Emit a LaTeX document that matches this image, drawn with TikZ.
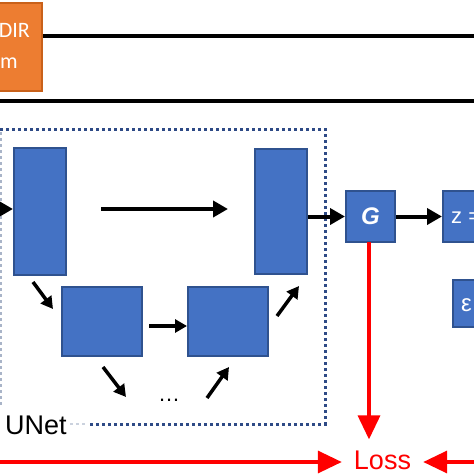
\documentclass[tikz,border=0pt]{standalone}
\usepackage{fontspec}
\setmainfont{Liberation Sans}
\newfontfamily\calib{Carlito}
\usetikzlibrary{arrows.meta}
\definecolor{blk}{HTML}{4472C4}
\definecolor{blkb}{HTML}{2F528F}
\definecolor{orng}{HTML}{ED7D31}
\definecolor{orngb}{HTML}{C9611A}
\definecolor{navy}{HTML}{2E4A86}
\definecolor{dotgray}{HTML}{A9B4C8}
\tikzset{
  block/.style={draw=blkb, fill=blk, line width=2pt, inner sep=0pt},
  barrow/.style={line width=4pt, -{Triangle[length=15pt,width=16pt]}},
  sarrow/.style={line width=3.5pt, -{Triangle[length=12pt,width=13pt]}},
  rarrow/.style={draw=red, line width=3.5pt, -{Triangle[length=24pt,width=22pt]}},
  hline/.style={line width=3.5pt},
  dotbox/.style={draw=navy, line width=3pt, dash pattern=on 3pt off 3pt},
  wtext/.style={text=white, inner sep=0pt},
}
\begin{document}
\begin{tikzpicture}[x=1pt,y=-1pt]
\useasboundingbox (0,0) rectangle (474,474);
\clip (0,0) rectangle (474,474);
% orange box
\node[draw=orngb, fill=orng, line width=2pt, minimum width=80pt, minimum height=88pt, inner sep=0pt] (orange) at (2,47) {};
\node[wtext, anchor=east, font=\calib\fontsize{22}{22}\selectfont] (dirtext) at (30,30) {DIR};
\node[wtext, anchor=east, font=\calib\fontsize{22}{22}\selectfont] (mtext) at (18,63) {m};
% top lines
\coordinate (l1end) at (476,36);
\draw[hline] (orange.east |- l1end) -- (l1end);
\coordinate (l2a) at (-2,101);
\coordinate (l2b) at (476,101);
\draw[hline] (l2a) -- (l2b);
% UNet dotted box
\coordinate (bxtl) at (0,129);
\coordinate (bxtr) at (325,129);
\coordinate (bxbr) at (325,424);
\coordinate (bxbl) at (88,424);
\draw[dotbox] (bxtl) -- (bxtr) -- (bxbr) -- (bxbl);
\coordinate (lft1) at (1,132);
\coordinate (lft2) at (1,405);
\draw[draw=dotgray, line width=2.5pt, dash pattern=on 3pt off 3pt] (lft1) -- (lft2);
\coordinate (bl1) at (70,424);
\draw[draw=dotgray!60, line width=2.5pt, dash pattern=on 3pt off 3pt] (bl1) -- (bxbl);
\node[anchor=west, inner sep=0pt, font=\fontsize{27}{27}\selectfont] (unet) at (5,425) {UNet};
% blocks
\node[block, minimum width=52pt, minimum height=127pt] (b1) at (40,211.5) {};
\node[block, minimum width=52pt, minimum height=125pt] (b4) at (281,211.5) {};
\node[block, minimum width=80pt, minimum height=69pt] (b2) at (102,321.5) {};
\node[block, minimum width=80pt, minimum height=69pt] (b3) at (228,321.5) {};
\node[inner sep=0pt, font=\fontsize{22}{22}\selectfont] (dots) at (169,400) {\dots};
% G and right boxes
\node[block, minimum width=49pt, minimum height=51pt, text=white, font=\bfseries\itshape\fontsize{24}{24}\selectfont] (G) at (370.5,216.5) {G};
\node[block, minimum width=80pt, minimum height=51pt, anchor=west] (zbox) at (442,216.5) {};
\node[wtext, anchor=west, font=\fontsize{22}{22}\selectfont] (ztext) at (451,218) {z =};
\node[block, minimum width=80pt, minimum height=47pt, anchor=west] (ebox) at (452,303.5) {};
\node[wtext, anchor=west, font=\fontsize{24}{24}\selectfont] (etext) at (461,305) {ε};
% black arrows
\coordinate (in) at (-5,209);
\draw[barrow] (in) -- (in -| b1.west);
\draw[barrow, shorten <=34pt, shorten >=26pt] (b1.east |- in) -- (b4.west |- in);
\draw[barrow] (b4.east |- G.west) -- (G.west);
\draw[barrow] (G.east) -- (zbox.west);
\coordinate (a12s) at (33,282);
\coordinate (a12e) at (53,309);
\draw[sarrow] (a12s) -- (a12e);
\coordinate (a23s) at (149,326);
\draw[sarrow] (a23s) -- (b3.west |- a23s) ;
\coordinate (a34s) at (277,316);
\coordinate (a34e) at (299,286);
\draw[sarrow] (a34s) -- (a34e);
\coordinate (a2ds) at (103,367);
\coordinate (a2de) at (126,397);
\draw[sarrow] (a2ds) -- (a2de);
\coordinate (ad3s) at (207,398);
\coordinate (ad3e) at (229,367);
\draw[sarrow] (ad3s) -- (ad3e);
% loss
\node[text=red, inner xsep=12pt, inner ysep=11pt, font=\fontsize{27}{27}\selectfont] (loss) at (382.5,460) {Loss};
\coordinate (Gdown) at (369,242);
\draw[rarrow] (Gdown) -- (Gdown |- loss.north);
\coordinate (rl) at (-2,462);
\coordinate (rr) at (478,462);
\draw[rarrow] (rl) -- (rl -| loss.west);
\draw[rarrow] (rr) -- (rr -| loss.east);
\end{tikzpicture}
\end{document}
